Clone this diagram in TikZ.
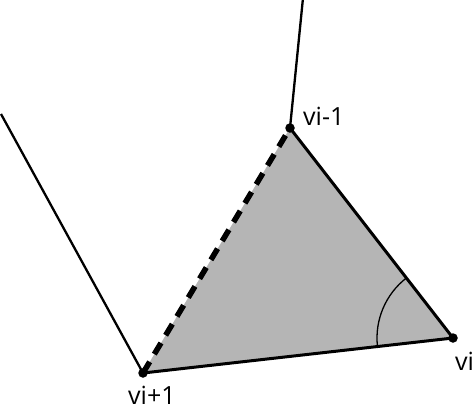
\documentclass[tikz,border=0pt]{standalone}
\usepackage{fontspec}
\setmainfont{Open Sans}
\usetikzlibrary{calc}
\begin{document}
\begin{tikzpicture}[x=1pt,y=-1pt,
  dot/.style={circle,fill=black,inner sep=0pt,minimum size=9.5pt},
  lbl/.style={inner sep=0pt,anchor=base west,font=\fontsize{25}{29}\selectfont},
  edge/.style={line width=3pt},
  thin/.style={line width=2.3pt},
  dashedge/.style={line width=5.5pt,dash pattern=on 13pt off 9pt}]
\useasboundingbox (0,0) rectangle (474,413);
\coordinate (A) at (290,128);
\coordinate (B) at (453,338);
\coordinate (C) at (143,373);
\coordinate (T) at (303,-2);
\coordinate (L) at (1,114);
\fill[fill={rgb,255:red,181;green,181;blue,181}] (A) -- (B) -- (C) -- cycle;
\draw[thin] (T) -- (A);
\draw[thin] (L) -- (C);
\draw[edge] (A) -- (B) -- (C);
\draw[dashedge] (C) -- (A);
\draw[line width=1.3pt] ($(B)+({76*cos(174)},{76*sin(174)})$) arc[start angle=174, end angle=232, radius=76];
\node[dot] (a) at (A) {};
\node[dot] (b) at (B) {};
\node[dot] (c) at (C) {};
\node[lbl] (la) at (303,125) {vi-1};
\node[lbl] (lb) at (455,370) {vi};
\node[lbl] (lc) at (128,404) {vi+1};
\end{tikzpicture}
\end{document}
